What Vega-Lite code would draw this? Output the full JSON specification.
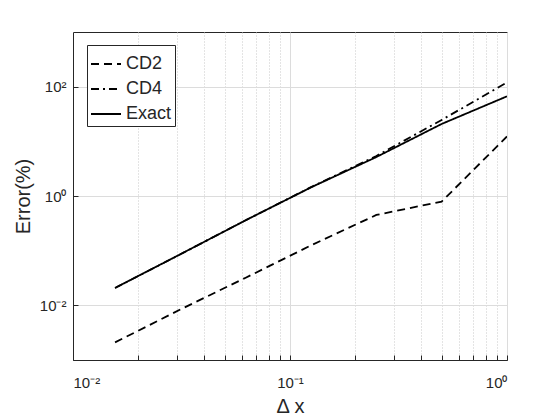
{
  "$schema": "https://vega.github.io/schema/vega-lite/v6.json",
  "width": 434,
  "height": 328,
  "autosize": {"type": "none"},
  "padding": {"left": 73, "top": 32, "right": 53, "bottom": 60},
  "background": "white",
  "data": {
    "values": [
      {"dx": 0.015625, "err": 0.0021, "method": "CD2"},
      {"dx": 0.03125, "err": 0.0084, "method": "CD2"},
      {"dx": 0.0625, "err": 0.032, "method": "CD2"},
      {"dx": 0.125, "err": 0.125, "method": "CD2"},
      {"dx": 0.25, "err": 0.45, "method": "CD2"},
      {"dx": 0.5, "err": 0.79, "method": "CD2"},
      {"dx": 1, "err": 12.3, "method": "CD2"},
      {"dx": 0.015625, "err": 0.0208, "method": "CD4"},
      {"dx": 0.03125, "err": 0.086, "method": "CD4"},
      {"dx": 0.0625, "err": 0.36, "method": "CD4"},
      {"dx": 0.125, "err": 1.45, "method": "CD4"},
      {"dx": 0.25, "err": 5.4, "method": "CD4"},
      {"dx": 0.5, "err": 24.6, "method": "CD4"},
      {"dx": 1, "err": 120, "method": "CD4"},
      {"dx": 0.015625, "err": 0.0208, "method": "Exact"},
      {"dx": 0.03125, "err": 0.086, "method": "Exact"},
      {"dx": 0.0625, "err": 0.36, "method": "Exact"},
      {"dx": 0.125, "err": 1.44, "method": "Exact"},
      {"dx": 0.25, "err": 5.16, "method": "Exact"},
      {"dx": 0.5, "err": 20.8, "method": "Exact"},
      {"dx": 1, "err": 66.6, "method": "Exact"}
    ]
  },
  "mark": {"type": "line", "color": "black", "strokeWidth": 1.8, "clip": true},
  "encoding": {
    "x": {
      "field": "dx",
      "type": "quantitative",
      "scale": {"type": "log", "domain": [0.01, 1]},
      "axis": {
        "title": "Δ x",
        "values": [0.01, 0.02, 0.03, 0.04, 0.05, 0.06, 0.07, 0.08, 0.09, 0.1, 0.2, 0.3, 0.4, 0.5, 0.6, 0.7, 0.8, 0.9, 1],
        "labelExpr": "datum.value < 0.015 ? '10⁻²' : (datum.value > 0.095 && datum.value < 0.105) ? '10⁻¹' : datum.value > 0.95 ? '10⁰' : ''",
        "grid": true,
        "gridColor": {"condition": {"test": "datum.value < 0.015 || (datum.value > 0.095 && datum.value < 0.105) || datum.value > 0.95", "value": "#dcdcdc"}, "value": "#c8c8c8"},
        "gridDash": {"condition": {"test": "datum.value < 0.015 || (datum.value > 0.095 && datum.value < 0.105) || datum.value > 0.95", "value": []}, "value": [1, 2]},
        "tickSize": -5,
        "labelPadding": 20,
        "titlePadding": 6
      }
    },
    "y": {
      "field": "err",
      "type": "quantitative",
      "scale": {"type": "log", "domain": [0.001, 1000]},
      "axis": {
        "title": "Error(%)",
        "values": [0.01, 1, 100],
        "labelExpr": "datum.value < 0.1 ? '10⁻²' : datum.value < 10 ? '10⁰' : '10²'",
        "grid": true,
        "gridColor": "#dcdcdc",
        "tickSize": -5,
        "labelPadding": 12,
        "titlePadding": 6
      }
    },
    "strokeDash": {
      "field": "method",
      "type": "nominal",
      "scale": {"domain": ["CD2", "CD4", "Exact"], "range": [[8, 5], [8, 4, 2, 4], [1, 0]]},
      "legend": {
        "title": null,
        "orient": "none",
        "legendX": 14,
        "legendY": 13,
        "strokeColor": "#262626",
        "fillColor": "white",
        "padding": 3,
        "labelFontSize": 18,
        "labelColor": "#262626",
        "labelFont": "Liberation Sans",
        "symbolType": "stroke",
        "symbolSize": 900,
        "symbolStrokeColor": "black",
        "symbolStrokeWidth": 1.8,
        "rowPadding": 0,
        "labelOffset": 4
      }
    }
  },
  "config": {
    "font": "Liberation Sans",
    "view": {"stroke": "#262626", "strokeWidth": 1},
    "axis": {
      "domainColor": "#262626",
      "tickColor": "#262626",
      "labelColor": "#262626",
      "labelFont": "Liberation Sans",
      "labelFontSize": 15,
      "titleColor": "#262626",
      "titleFont": "Liberation Sans",
      "titleFontSize": 20,
      "titleFontWeight": "normal",
      "gridWidth": 1
    }
  }
}
